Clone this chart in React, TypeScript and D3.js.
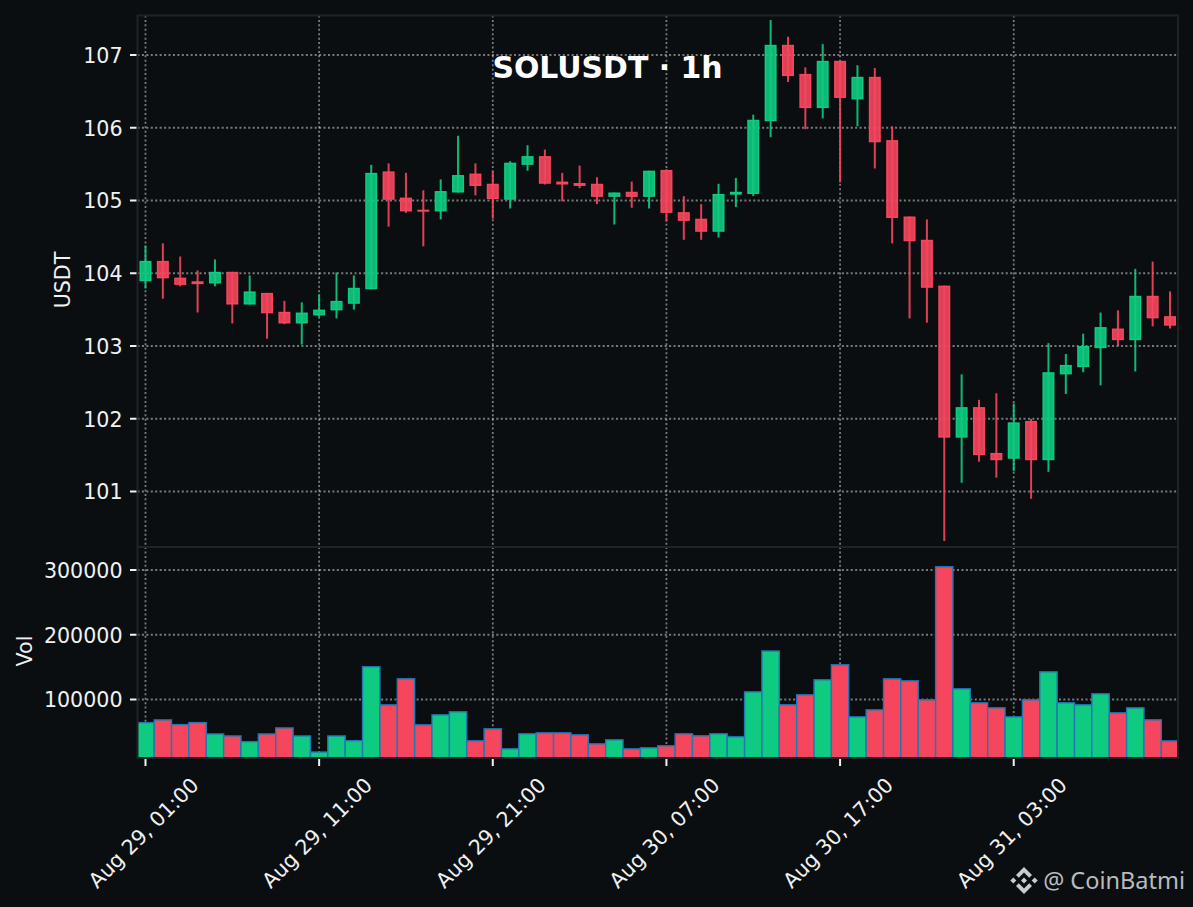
import React from "react";
import * as d3 from "d3";

const W = 1193;
const H = 907;

const opens = [103.89,104.17,103.94,103.89,103.86,104.02,103.57,103.73,103.47,103.31,103.42,103.49,103.58,103.78,105.40,105.04,104.87,104.85,105.11,105.37,105.23,105.01,105.49,105.61,105.26,105.24,105.23,105.05,105.12,105.05,105.42,104.84,104.75,104.57,105.08,105.09,106.09,107.14,106.74,106.27,106.92,106.39,106.70,105.83,104.78,104.46,103.83,101.74,102.16,101.53,101.45,101.97,101.43,102.61,102.71,102.97,103.24,103.08,103.69,103.41];
const closes = [104.17,103.93,103.84,103.85,104.02,103.57,103.75,103.45,103.31,103.46,103.50,103.62,103.80,105.38,105.01,104.85,104.85,105.13,105.35,105.20,105.02,105.52,105.61,105.23,105.22,105.20,105.05,105.11,105.05,105.41,104.83,104.72,104.57,105.09,105.12,106.11,107.14,106.71,106.27,106.92,106.41,106.70,105.80,104.76,104.44,103.80,101.74,102.16,101.50,101.43,101.95,101.43,102.64,102.74,103.00,103.26,103.08,103.69,103.38,103.28];
const highs = [104.38,104.41,104.23,104.04,104.19,104.02,103.97,103.73,103.62,103.60,103.71,104.01,103.97,105.49,105.51,105.38,105.14,105.29,105.89,105.51,105.41,105.54,105.76,105.70,105.38,105.48,105.32,105.11,105.26,105.41,105.43,105.06,104.95,105.23,105.31,106.18,107.48,107.25,106.83,107.15,106.92,106.86,106.82,106.02,104.78,104.74,103.83,102.61,102.26,102.35,102.21,102.00,103.04,102.89,103.17,103.46,103.49,104.06,104.16,103.75];
const lows = [103.79,103.65,103.82,103.46,103.82,103.31,103.57,103.10,103.30,103.02,103.40,103.38,103.50,103.78,104.64,104.83,104.37,104.74,105.11,105.07,104.75,104.89,105.41,105.22,104.99,105.17,104.95,104.67,104.90,104.89,104.71,104.46,104.46,104.49,104.91,105.06,105.87,106.63,105.98,106.13,105.25,106.02,105.44,104.41,103.38,103.32,100.32,101.12,101.41,101.19,101.28,100.90,101.27,102.34,102.64,102.46,103.00,102.65,103.27,103.24];
const volumes = [64300,68500,61200,64300,46800,43700,34900,46800,56100,43700,18900,43700,36400,150600,91700,132000,60900,76300,81000,36200,54700,23800,47000,48500,48500,45400,31500,37700,23800,25400,28500,47000,43900,47000,42400,111800,174900,91800,107200,130400,153600,73200,84000,131900,128800,99500,305000,116500,94900,87100,73200,99500,142700,94900,91800,108800,79400,87100,68600,36100];
const priceTicks = [101,102,103,104,105,106,107];
const volumeTicks = [100000,200000,300000];
const timeTickIndex = [0,10,20,30,40,50];
const timeTickLabels = ["Aug 29, 01:00","Aug 29, 11:00","Aug 29, 21:00","Aug 30, 07:00","Aug 30, 17:00","Aug 31, 03:00"];

const BG = "#0b0e11";
const UP = "#0ecb81";
const DOWN = "#f6465d";
const SPINE = "#1f2327";
const TXT = "#f0f1f2";
const FONT = "'DejaVu Sans', sans-serif";
const indices = d3.range(opens.length);

export default function App() {
  const left = 137.5, right = 1178, top = 15.5, mid = 547, bottom = 758;
  const x = d3.scaleLinear().domain([-0.46, 59.46]).range([left, right]);
  const y = d3.scaleLinear().domain([101, 107]).range([491.5, 55]);
  const v = d3.scaleLinear().domain([100000, 300000]).range([699.5, 570]);
  const step = x(1) - x(0);
  const edge = 1.6;
  const bodyW = 12 - edge;
  const gridStyle = { stroke: "#ffffff", strokeOpacity: 0.45, strokeWidth: 1.8, strokeDasharray: "2 2.43" };
  return (
    <svg width={W} height={H} viewBox={`0 0 ${W} ${H}`} style={{ position: "absolute", left: 0, top: 0, display: "block" }} fontFamily={FONT}>
      <rect x={0} y={0} width={W} height={H} fill={BG} />
      <defs>
        <clipPath id="vc"><rect x={left} y={mid} width={right - left} height={bottom - mid} /></clipPath>
      </defs>
      {/* grid */}
      {priceTicks.map(t => <line key={t} x1={left} x2={right} y1={y(t)} y2={y(t)} {...gridStyle} />)}
      {volumeTicks.map(t => <line key={t} x1={left} x2={right} y1={v(t)} y2={v(t)} {...gridStyle} />)}
      {timeTickIndex.map(i => <line key={i} x1={x(i)} x2={x(i)} y1={top} y2={bottom} {...gridStyle} />)}
      {/* candles */}
      {indices.map(i => {
        const c = closes[i] >= opens[i] ? UP : DOWN;
        const t = y(Math.max(opens[i], closes[i]));
        const b = y(Math.min(opens[i], closes[i]));
        const h = Math.max(b - t - edge, 0.4);
        return (
          <g key={i}>
            <line x1={x(i)} x2={x(i)} y1={y(highs[i])} y2={y(lows[i])} stroke={c} strokeOpacity={0.9} strokeWidth={2} />
            <rect x={x(i) - bodyW / 2} y={(t + b) / 2 - h / 2} width={bodyW} height={h} fill={c} fillOpacity={0.9} stroke={c} strokeWidth={edge} />
          </g>
        );
      })}
      {/* volume */}
      <g clipPath="url(#vc)">
        {indices.map(i => (
          <rect key={i} x={x(i) - step / 2} y={v(volumes[i])} width={step} height={bottom - v(volumes[i])}
            fill={closes[i] >= opens[i] ? UP : DOWN} stroke="#1f77b4" strokeWidth={1.4} />
        ))}
      </g>
      {/* spines */}
      <rect x={left} y={top} width={right - left} height={mid - top} fill="none" stroke={SPINE} strokeWidth={2} />
      <rect x={left} y={mid} width={right - left} height={bottom - mid} fill="none" stroke={SPINE} strokeWidth={2} />
      {/* y ticks */}
      {priceTicks.map(t => (
        <g key={t}>
          <line x1={left - 7.5} x2={left - 1} y1={y(t)} y2={y(t)} stroke={TXT} strokeWidth={2} />
          <text x={left - 15} y={y(t)} dy="0.38em" textAnchor="end" fontSize={20.6} fill={TXT}>{t}</text>
        </g>
      ))}
      {volumeTicks.map(t => (
        <g key={t}>
          <line x1={left - 7.5} x2={left - 1} y1={v(t)} y2={v(t)} stroke={TXT} strokeWidth={2} />
          <text x={left - 15} y={v(t)} dy="0.38em" textAnchor="end" fontSize={20.6} fill={TXT}>{d3.format("d")(t)}</text>
        </g>
      ))}
      {/* x ticks */}
      {timeTickIndex.map((i, k) => (
        <g key={i}>
          <line x1={x(i)} x2={x(i)} y1={bottom + 1} y2={bottom + 8} stroke={TXT} strokeWidth={2} />
          <text transform={`translate(${x(i) + 44},${bottom + 18}) rotate(-45)`} dy="0.72em" textAnchor="end" fontSize={20.6} fill={TXT}>{timeTickLabels[k]}</text>
        </g>
      ))}
      <text transform="translate(70,280) rotate(-90)" textAnchor="middle" fontSize={20.6} fill={TXT}>USDT</text>
      <text transform="translate(32,651) rotate(-90)" textAnchor="middle" fontSize={20.6} fill={TXT}>Vol</text>
      <text x={607.5} y={78} textAnchor="middle" fontSize={29.9} fontWeight="bold" fill="#ffffff">SOLUSDT · 1h</text>
      {/* watermark */}
      <g fill="#c9cbce" transform="translate(1024,880.5)">
        <path d="M0,-13.5L8,-5.5L5.2,-2.8L0,-8L-5.2,-2.8L-8,-5.5Z" />
        <path d="M0,13.5L8,5.5L5.2,2.8L0,8L-5.2,2.8L-8,5.5Z" />
        <path d="M0,-3L3,0L0,3L-3,0Z" />
        <path d="M-10.7,-3L-7.7,0L-10.7,3L-13.7,0Z" />
        <path d="M10.7,-3L13.7,0L10.7,3L7.7,0Z" />
      </g>
      <text x={1185} y={889} textAnchor="end" fontSize={23.5} fill="#b9bbbe" fontFamily="'Noto Sans', sans-serif">@ CoinBatmi</text>
    </svg>
  );
}
